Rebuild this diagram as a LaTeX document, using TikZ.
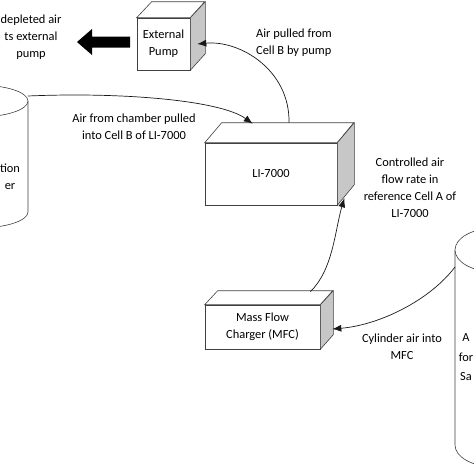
\documentclass[tikz,border=0pt]{standalone}
\usepackage{fontspec}
\setmainfont{Carlito}
\usetikzlibrary{arrows.meta,positioning}

\begin{document}
\begin{tikzpicture}[x=1pt, y=-1pt,
    every node/.style={font=\fontsize{12.4}{17}\selectfont},
    box/.style={rectangle, draw=black!75, line width=0.6pt, fill=white, align=center, inner sep=0pt},
    topface/.style={draw=black!75, line width=0.6pt, fill=white},
    sideface/.style={draw=black!75, line width=0.6pt, fill=black!22},
    can/.style={draw=black!75, line width=0.6pt, fill=white},
    txt/.style={align=center, inner sep=0pt},
    arrow/.style={-{Latex[length=9pt,width=7pt]}, line width=0.7pt, black!90}
]
\useasboundingbox (0,0) rectangle (474,474);
\clip (0,0) rectangle (474,474);

% Chamber cylinder (left)
\draw[can] (28,101) -- (28,212) arc[start angle=0, end angle=180, x radius=50, y radius=16] -- (-72,101);
\draw[can] (-22,101) ellipse[x radius=50, y radius=16];
\node[txt] (chambertxt) at (10,177) {tion\\er};
\coordinate (chamber) at (28,96);

% Air cylinder (right)
\draw[can] (455,250) -- (455,445) arc[start angle=180, end angle=0, x radius=40, y radius=22] -- (535,250);
\draw[can] (495,250) ellipse[x radius=40, y radius=22];
\node[txt, font=\fontsize{12.4}{19.5}\selectfont] (tanktxt) at (466,357.5) {A\\for\\Sa};
\coordinate (tank) at (455,267);

% External pump
\node[box, minimum width=53pt, minimum height=52pt] (pump) at (163.5,44) {External\\Pump};
\draw[topface] (pump.north west) -- ++(15,-16) -- ++(53,0) -- (pump.north east) -- cycle;
\draw[sideface] (pump.north east) -- ++(15,-16) -- ++(0,52) -- (pump.south east) -- cycle;

% LI-7000 analyser
\node[box, minimum width=132pt, minimum height=62pt] (li) at (271,174) {LI-7000};
\draw[topface] (li.north west) -- ++(17,-20) -- ++(132,0) -- (li.north east) -- cycle;
\draw[sideface] (li.north east) -- ++(17,-20) -- ++(0,62) -- (li.south east) -- cycle;

% Mass flow controller
\node[box, minimum width=115pt, minimum height=44pt] (mfc) at (262.5,327) {Mass Flow\\Charger (MFC)};
\draw[topface] (mfc.north west) -- ++(13,-14) -- ++(115,0) -- (mfc.north east) -- cycle;
\draw[sideface] (mfc.north east) -- ++(13,-14) -- ++(0,44) -- (mfc.south east) -- cycle;

% Exhaust arrow
\fill[black] (130,36.5) -- (92,36.5) -- (92,29) -- (77,42) -- (92,55) -- (92,47.5) -- (130,47.5) -- cycle;
\node[txt] (exhaust) at (31,37) {depleted air\\ts external\\pump};

% Flow labels
\node[txt, align=left, anchor=west] (pulltxt) at (256,42.5) {Air pulled from\\Cell B by pump};
\node[txt] (cellbtxt) at (134,127) {Air from chamber pulled\\into Cell B of LI-7000};
\node[txt] (cellatxt) at (410,188) {Controlled air\\flow rate in\\reference Cell A of\\LI-7000};
\node[txt] (mfctxt) at (402,346.5) {Cylinder air into\\MFC};

% Air flow connectors
\draw[arrow] (chamber) .. controls (120,92) and (220,100) .. ([shift={(48,-19)}]li.north west);
\draw[arrow] ([shift={(18,-20)}]li.north) .. controls (290,70) and (240,40) .. ([shift={(7,0)}]pump.east);
\draw[arrow] ([shift={(-10,-13)}]mfc.north east) .. controls (333,270) and (335,230) .. ([shift={(7,-7)}]li.south east);
\draw[arrow] (tank) .. controls (430,300) and (380,325) .. ([shift={(12,2)}]mfc.east);

\end{tikzpicture}
\end{document}
